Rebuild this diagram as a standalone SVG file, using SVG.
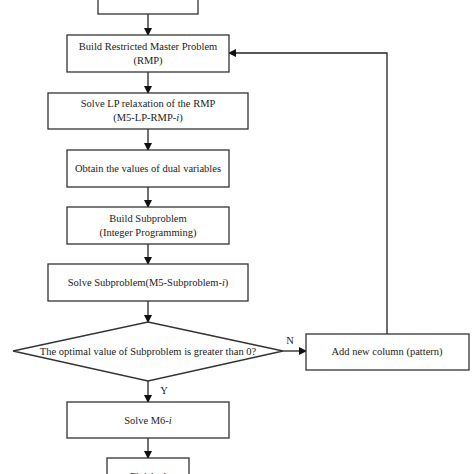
<svg xmlns="http://www.w3.org/2000/svg" width="474" height="474" viewBox="0 0 474 474">
<style>
.b{fill:#fff;stroke:#333;stroke-width:1.3}
.t{font-family:"Liberation Serif","Times New Roman",serif;font-size:10.5px;fill:#222;text-anchor:middle}
.c{fill:none;stroke:#222;stroke-width:1.3}
</style>
<defs>
<marker id="ah" markerWidth="8" markerHeight="8" refX="7" refY="4" orient="auto" markerUnits="userSpaceOnUse">
<path d="M0,0 L8,4 L0,8 Z" fill="#111"/>
</marker>
</defs>
<rect width="474" height="474" fill="#fff"/>
<g id="connectors">
<line class="c" x1="148" y1="14" x2="148" y2="35" marker-end="url(#ah)"/>
<line class="c" x1="148" y1="72" x2="148" y2="93" marker-end="url(#ah)"/>
<line class="c" x1="148" y1="129" x2="148" y2="150" marker-end="url(#ah)"/>
<line class="c" x1="148" y1="187" x2="148" y2="207" marker-end="url(#ah)"/>
<line class="c" x1="148" y1="244" x2="148" y2="264" marker-end="url(#ah)"/>
<line class="c" x1="148" y1="301" x2="148" y2="322" marker-end="url(#ah)"/>
<line class="c" x1="283" y1="351" x2="306" y2="351" marker-end="url(#ah)"/>
<polyline class="c" points="387,334 387,53 229,53" marker-end="url(#ah)"/>
<line class="c" x1="148" y1="381" x2="148" y2="402" marker-end="url(#ah)"/>
<line class="c" x1="148" y1="438" x2="148" y2="458" marker-end="url(#ah)"/>
<text class="t" x="290" y="344">N</text>
<text class="t" x="164" y="394">Y</text>
</g>
<g id="start"><rect class="b" x="98" y="-10" width="100" height="24"/></g>
<g id="rmp"><rect class="b" x="67" y="35" width="162" height="37"/>
<text class="t" x="148" y="50">Build Restricted Master Problem</text>
<text class="t" x="148" y="64">(RMP)</text></g>
<g id="lp"><rect class="b" x="48" y="93" width="200" height="36"/>
<text class="t" x="148" y="107">Solve LP relaxation of the RMP</text>
<text class="t" x="148" y="121">(M5-LP-RMP-<tspan font-style="italic">i</tspan>)</text></g>
<g id="dual"><rect class="b" x="67" y="150" width="162" height="37"/>
<text class="t" x="148" y="172">Obtain the values of dual variables</text></g>
<g id="sub"><rect class="b" x="67" y="207" width="162" height="37"/>
<text class="t" x="148" y="222">Build Subproblem</text>
<text class="t" x="148" y="236">(Integer Programming)</text></g>
<g id="solvesub"><rect class="b" x="48" y="264" width="200" height="37"/>
<text class="t" x="148" y="286">Solve Subproblem(M5-Subproblem-<tspan font-style="italic">i</tspan>)</text></g>
<g id="decision"><polygon class="b" points="148,322 283,351 148,381 13,351"/>
<text class="t" x="148" y="355">The optimal value of Subproblem is greater than 0?</text></g>
<g id="addcol"><rect class="b" x="306" y="334" width="163" height="36"/>
<text class="t" x="387" y="355">Add new column (pattern)</text></g>
<g id="m6"><rect class="b" x="67" y="402" width="162" height="36"/>
<text class="t" x="148" y="424">Solve M6-<tspan font-style="italic">i</tspan></text></g>
<g id="end"><rect class="b" x="107" y="458" width="82" height="30"/>
<text class="t" x="148" y="480">Finished</text></g>
</svg>
